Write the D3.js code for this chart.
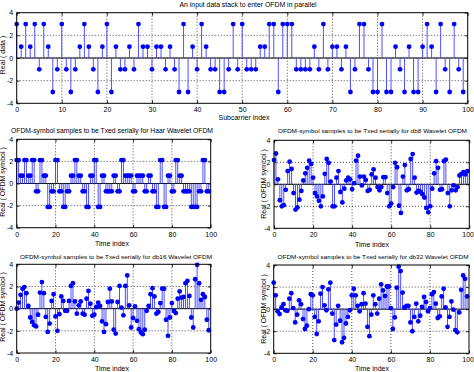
<!DOCTYPE html>
<html><head><meta charset="utf-8">
<script src="https://cdn.jsdelivr.net/npm/d3@7"></script>
<style>
body{margin:0;background:#fff}
svg{display:block}
text{font-family:"Liberation Sans",Arial,Helvetica,sans-serif;fill:#000}
</style>
</head><body>
<svg id="c" width="474" height="372"></svg>
<script>
// ---------- data ----------
const dataValues = [3,1,3,1,3,-1,3,1,-3,-1, 3,-1,-3,-1,1,3,1,-1,-3,1, 3,-3,1,-1,-1,1,-1,3,1,1,
 -1,1,1,-1,1,-1,-3,3,-3,1, -1,3,1,-1,-1,-3,-3,-1,3,-1, 3,-1,-1,-1,1,1,3,3,-3,3,
 3,3,-1,-1,-1,-1,1,-1,3,-1, 1,1,-1,1,-3,-1,3,3,-1,-3, -3,3,-3,-3,1,-1,-3,1,-3,-3,
 1,3,1,-3,3,-1,-3,3,-1,-3];

const haarValues = [2.12,2.12,0.71,0.71,2.12,2.12,0.71,0.71,2.12,2.12,-0.71,-0.71,2.12,2.12,0.71,0.71,-2.12,-2.12,-0.71,-0.71,
 2.12,2.12,-0.71,-0.71,-2.12,-2.12,-0.71,-0.71,0.71,0.71,2.12,2.12,0.71,0.71,-0.71,-0.71,-2.12,-2.12,0.71,0.71,
 2.12,2.12,-2.12,-2.12,0.71,0.71,-0.71,-0.71,-0.71,-0.71,0.71,0.71,-0.71,-0.71,2.12,2.12,0.71,0.71,0.71,0.71,
 -0.71,-0.71,0.71,0.71,0.71,0.71,-0.71,-0.71,0.71,0.71,-0.71,-0.71,-2.12,-2.12,2.12,2.12,-2.12,-2.12,0.71,0.71,
 -0.71,-0.71,2.12,2.12,0.71,0.71,-0.71,-0.71,-0.71,-0.71,-2.12,-2.12,-2.12,-2.12,-0.71,-0.71,2.12,2.12,-0.71,-0.71];

const db8Values = [2.2,2.8,0.45,-1.45,-2.0,-1.9,-0.5,1.2,2.05,1.4,
 -0.8,-2.3,-2.1,-1.4,-0.6,0.35,1.0,1.5,2.15,1.85,
 0.6,-0.8,-1.1,-1.5,-2.0,-1.1,0.95,2.3,1.95,0.25,
 -2.0,-2.0,0.6,1.2,-0.7,-1.65,-0.4,0.35,0.6,0.45,
 -0.45,0.1,2.15,2.6,0.7,-0.1,0.7,0.4,-0.6,-0.5,
 0.9,1.35,0.6,-0.25,-0.55,-0.25,0.65,0.65,-0.8,-2.0,
 -1.75,-0.25,1.95,1.55,-1.95,-2.6,0.7,1.75,-0.55,-0.45,
 2.3,2.75,0.6,-0.75,-0.6,-0.7,-0.9,-1.2,-2.15,-2.55,
 -2.0,-0.4,1.0,2.1,1.5,-0.5,-0.45,2.1,2.25,-0.8,
 -2.0,-0.55,-0.1,-0.55,-0.25,0.8,0.95,1.1,0.9,1.2];

const db16Values = [0.0,0.55,1.25,1.8,1.95,1.4,0.25,-0.8,-1.2,-1.5,
 -1.6,-0.55,1.45,2.4,1.4,-0.75,-2.1,-1.35,0.7,1.3,
 -0.7,-2.0,-0.5,1.1,0.7,-0.2,-0.2,0.7,2.05,2.3,
 0.65,-0.45,0.3,0.65,-0.45,-0.55,0.9,1.6,0.45,-0.65,
 -0.55,0.15,0.55,0.25,-1.15,-2.1,-1.4,0.6,1.8,0.65,
 -1.9,-2.25,0.6,2.05,0.1,-0.6,2.05,3.0,0.3,-1.7,
 -0.85,0.2,-1.1,-1.85,-2.15,-2.3,-1.9,-0.2,0.25,1.3,
 1.85,1.1,-0.45,-0.3,0.5,1.8,1.8,-1.0,-2.45,-0.8,
 0.5,-0.2,-0.4,0.9,1.55,1.0,1.05,2.3,2.5,1.15,
 -0.8,-1.7,2.65,3.95,2.3,0.8,1.3,1.05,-1.0,-1.95];

const db32Values = [2.4,1.25,-0.2,-0.45,0.15,0.45,-0.1,-0.15,0.95,1.45,
 0.1,-1.2,-0.5,0.8,0.45,-0.9,-1.8,-1.5,0.0,1.35,
 1.25,-0.7,-2.25,-1.1,1.4,2.0,0.35,-0.1,1.8,2.4,
 -0.4,-2.8,-1.4,0.3,-1.05,-3.0,-2.6,-1.3,-0.7,-0.1,
 1.25,1.85,1.25,0.3,-0.2,0.45,1.45,0.5,-1.6,-2.45,
 -0.5,1.25,0.45,-0.4,0.95,2.25,1.7,1.2,2.05,2.05,
 0.1,-1.8,-0.75,1.95,3.85,3.45,1.5,0.15,0.3,0.3,
 -1.2,-2.0,-0.7,0.5,-1.1,-0.6,0.2,1.1,0.65,-0.2,
 0.1,1.35,1.55,0.5,-0.8,-0.65,1.15,1.85,0.15,-1.6,
 -0.7,0.7,-0.05,-1.9,-2.1,-0.3,1.75,3.05,2.75,1.15];

const topXTicks = [0,10,20,30,40,50,60,70,80,90,100];
const subXTicks = [0,20,40,60,80,100];
const yTicks = [-4,-2,0,2,4];

const titleTop = "An input data stack to enter OFDM in parallel";
const titleHaar = "OFDM-symbol samples to be Txed serially for Haar Wavelet OFDM";
const titleDb8 = "OFDM-symbol samples to be Txed serially for db8 Wavelet OFDM";
const titleDb16 = "OFDM-symbol samples to be Txed serially for db16 Wavelet OFDM";
const titleDb32 = "OFDM-symbol samples to be Txed serially for db32 Wavelet OFDM";
const xlabelTop = "Subcarrier index";
const xlabelSub = "Time index";
const ylabelTop = "Real ( data )";
const ylabelSub = "Real ( OFDM symbol )";

// ---------- drawing ----------
const svg = d3.select("#c");
svg.append("rect").attr("width",474).attr("height",372).attr("fill","#fff");

function panel(p){
  const x = d3.scaleLinear().domain([0,100]).range([p.l,p.r]);
  const y = d3.scaleLinear().domain([-4,4]).range([p.b,p.t]);
  const g = svg.append("g");

  // grid (dotted)
  g.selectAll(null).data(p.xt.slice(1,-1)).join("line")
    .attr("x1",d=>x(d)).attr("x2",d=>x(d)).attr("y1",p.t).attr("y2",p.b)
    .attr("stroke","#000").attr("stroke-width",0.7).attr("stroke-dasharray","1,2");
  g.selectAll(null).data(yTicks.slice(1,-1)).join("line")
    .attr("y1",d=>y(d)).attr("y2",d=>y(d)).attr("x1",p.l).attr("x2",p.r)
    .attr("stroke","#000").attr("stroke-width",0.7).attr("stroke-dasharray","1,2");

  // axes
  const ax = g.append("g").attr("transform",`translate(0,${p.b})`)
    .call(d3.axisBottom(x).tickValues(p.xt).tickSize(-3).tickPadding(4).tickFormat(d=>String(d)));
  const ay = g.append("g").attr("transform",`translate(${p.l},0)`)
    .call(d3.axisLeft(y).tickValues(yTicks).tickSize(-3).tickPadding(3.5).tickFormat(d=>String(d)));
  g.append("g").attr("transform",`translate(0,${p.t})`)
    .call(d3.axisTop(x).tickValues(p.xt).tickSize(-3).tickFormat(""));
  g.append("g").attr("transform",`translate(${p.r},0)`)
    .call(d3.axisRight(y).tickValues(yTicks).tickSize(-3).tickFormat(""));
  g.selectAll(".domain").remove();
  g.selectAll(".tick line").attr("stroke","#000").attr("stroke-width",0.8);
  g.selectAll(".tick text").attr("font-size",7).attr("font-family","'Liberation Sans',Arial,sans-serif").attr("fill","#000");
  // keep the last x tick label inside the page on right-hand panels
  if (p.r > 460) {
    ax.selectAll(".tick text").filter(d=>d===100).attr("text-anchor","end").attr("x", 473.5 - p.r);
  }

  // baseline
  g.append("line").attr("x1",p.l).attr("x2",p.r).attr("y1",y(0)).attr("y2",y(0))
    .attr("stroke","#000").attr("stroke-width",1);

  // stems
  const pts = p.values.map((v,i)=>({i,v}));
  g.selectAll(null).data(pts).join("line")
    .attr("x1",d=>x(d.i)).attr("x2",d=>x(d.i)).attr("y1",y(0)).attr("y2",d=>y(d.v))
    .attr("stroke","#4f4fff").attr("stroke-width",1);
  g.selectAll(null).data(pts).join("circle")
    .attr("cx",d=>x(d.i)).attr("cy",d=>y(d.v)).attr("r",2.4)
    .attr("fill","#0000ff");

  // frame
  g.append("rect").attr("x",p.l).attr("y",p.t).attr("width",p.r-p.l).attr("height",p.b-p.t)
    .attr("fill","none").attr("stroke","#000").attr("stroke-width",1);

  // title
  g.append("text").attr("x",p.tx).attr("y",p.ty).attr("text-anchor","middle")
    .attr("font-size",p.tf).attr("textLength",p.tw).attr("lengthAdjust","spacingAndGlyphs").text(p.title);
  // xlabel
  g.append("text").attr("x",p.xx).attr("y",p.xy).attr("text-anchor","middle")
    .attr("font-size",7).text(p.xlabel);
  // ylabel
  g.append("text").attr("transform",`translate(${p.yx},${p.yy}) rotate(-90)`).attr("text-anchor","middle")
    .attr("font-size",7).text(p.ylabel);
}

panel({values:dataValues,xt:topXTicks,l:16.7,r:467.7,t:12.7,b:103.3,
  title:titleTop,tx:248,ty:7,tw:137,tf:6.6,xlabel:xlabelTop,xx:244,xy:120,ylabel:ylabelTop,yx:5,yy:55});
panel({values:haarValues,xt:subXTicks,l:16.7,r:210.7,t:139.3,b:227.7,
  title:titleHaar,tx:112,ty:133,tw:202,tf:6.6,xlabel:xlabelSub,xx:112,xy:246,ylabel:ylabelSub,yx:4.5,yy:182});
panel({values:db8Values,xt:subXTicks,l:274,r:469.3,t:140.3,b:228.3,
  title:titleDb8,tx:372.5,ty:133,tw:189,tf:6.2,xlabel:xlabelSub,xx:372,xy:246.5,ylabel:ylabelSub,yx:266,yy:184});
panel({values:db16Values,xt:subXTicks,l:16.7,r:210.7,t:264.3,b:353,
  title:titleDb16,tx:116,ty:258.5,tw:192,tf:6.2,xlabel:xlabelSub,xx:112,xy:371,ylabel:ylabelSub,yx:4.5,yy:307});
panel({values:db32Values,xt:subXTicks,l:273.7,r:469,t:265,b:353.3,
  title:titleDb32,tx:373,ty:258.5,tw:191,tf:6.1,xlabel:xlabelSub,xx:372,xy:371,ylabel:ylabelSub,yx:266,yy:309});
</script>
</body></html>
